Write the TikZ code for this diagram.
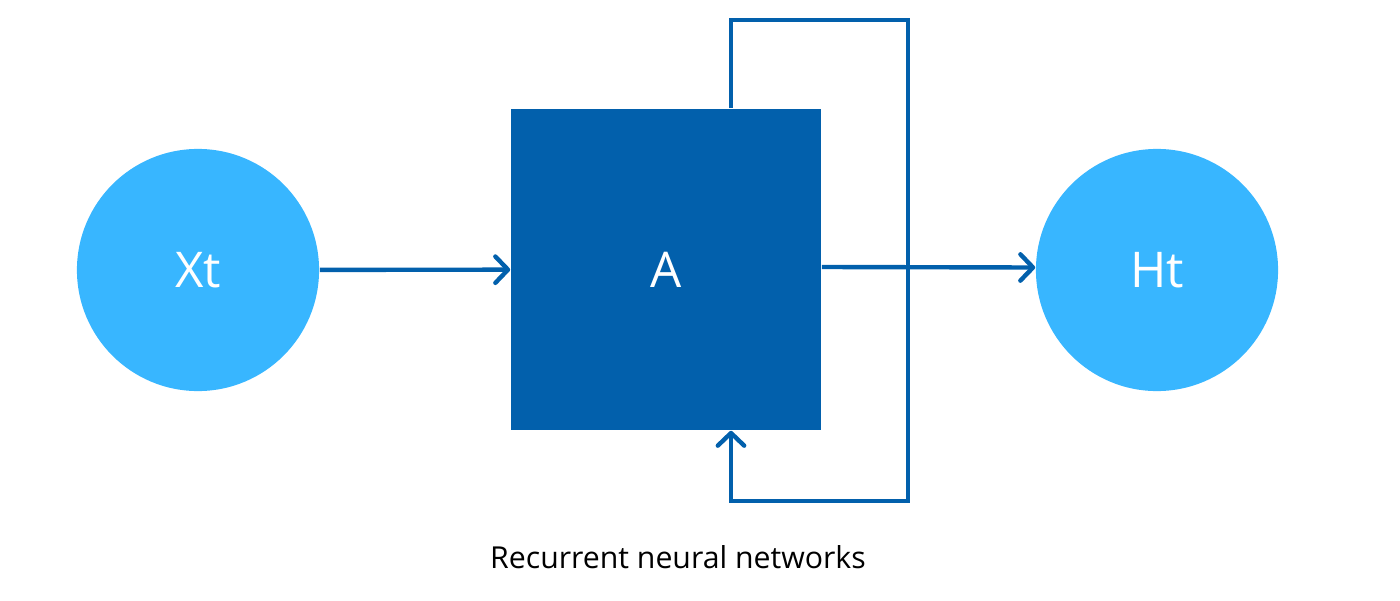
\documentclass[tikz,border=0pt]{standalone}
\usepackage{fontspec}
\setmainfont{Open Sans}
\usetikzlibrary{arrows.meta}
\definecolor{skyblue}{HTML}{38B6FF}
\definecolor{deepblue}{HTML}{0260AC}
\tikzset{
	state/.style={circle, fill=skyblue, minimum size=2.42cm, inner sep=0pt,
		text=white, font=\fontsize{14}{16}\selectfont},
	cell/.style={rectangle, fill=deepblue, minimum width=3.1cm, minimum height=3.21cm,
		inner sep=0pt, text=white, font=\fontsize{14}{16}\selectfont},
	wire/.style={draw=deepblue, line width=1.25pt},
	tip/.style={-{Straight Barb[length=3.6pt,width=7.5pt,line cap=round,line join=round]}}
}

\begin{document}
\begin{tikzpicture}[x=0.01cm, y=-0.01cm]
	\useasboundingbox (0,0) rectangle (1400,600);
	\node[state] (xt) at (198,270) {Xt};
	\node[cell] (a) at (666,269.5) {A};
	\node[state] (ht) at (1157,270) {Ht};

	\draw[wire, tip] (xt) -- (a);
	\draw[wire, tip] ([yshift=0.025cm]a.east) -- ([yshift=0.025cm]ht.west);

	% feedback loop
	\coordinate (up) at (731,20);
	\coordinate (upright) at (908,20);
	\coordinate (downright) at (908,501);
	\coordinate (down) at (731,501);
	\draw[wire, tip] (a.north -| up) -- (up) -- (upright) -- (downright) -- (down) -- (a.south -| down);

	\node[font=\fontsize{8.6}{10}\selectfont] (caption) at (678,557) {Recurrent neural networks};
\end{tikzpicture}
\end{document}
